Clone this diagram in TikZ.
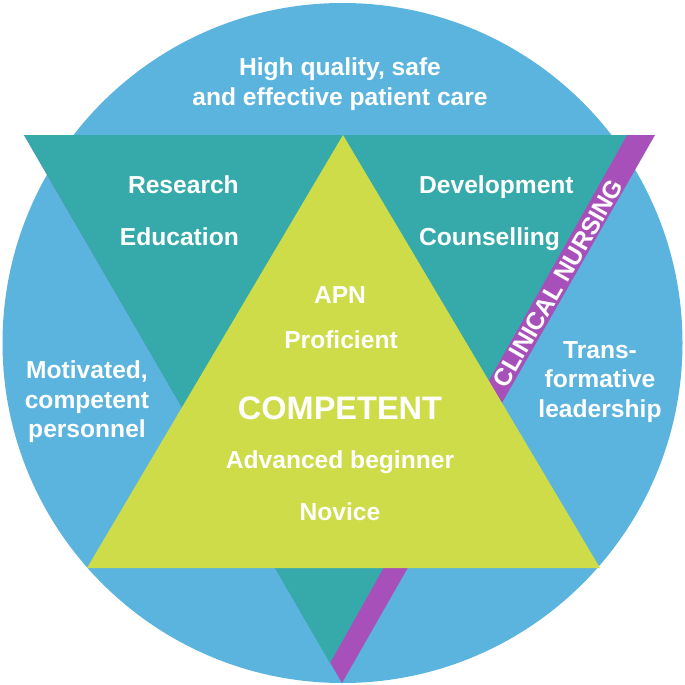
\documentclass[tikz,border=0pt]{standalone}
\usepackage{fontspec}
\setmainfont{Liberation Sans}
\definecolor{circblue}{HTML}{5BB4DE}
\definecolor{tealtri}{HTML}{36AAAA}
\definecolor{limetri}{HTML}{CDDC48}
\definecolor{purpband}{HTML}{A850BA}
\begin{document}
\begin{tikzpicture}[x=1pt,y=-1pt,
  lbl/.style={text=white,font=\bfseries\fontsize{24.6}{29.5}\selectfont,inner sep=0pt},
  biglbl/.style={text=white,font=\bfseries\fontsize{32.5}{36}\selectfont,inner sep=0pt}]
\fill[white] (0,0) rectangle (685,685);
\useasboundingbox (0,0) rectangle (685,685);
% circle
\fill[circblue] (342.5,343) circle[radius=340pt];
% purple band (larger inverted triangle)
\fill[purpband] (24,135) -- (655,135) -- (342,683) -- cycle;
% teal inverted triangle
\fill[tealtri] (24,135) -- (627,135) -- (330,663) -- cycle;
% yellow triangle
\fill[limetri] (343,135) -- (600,568) -- (87,568) -- cycle;
% texts
\node[lbl,anchor=north,align=center] (care) at (340,57.5) {High quality, safe\\and effective patient care};
\node[lbl,anchor=base east] (research) at (239,193) {Research};
\node[lbl,anchor=base east] (education) at (239,245) {Education};
\node[lbl,anchor=base west] (development) at (419,193) {Development};
\node[lbl,anchor=base west] (counselling) at (419,245) {Counselling};
\node[lbl,anchor=base] (apn) at (340,303) {APN};
\node[lbl,anchor=base] (proficient) at (341,348) {Proficient};
\node[biglbl,anchor=base] (competent) at (340,419) {COMPETENT};
\node[lbl,anchor=base] (advanced) at (340,468) {Advanced beginner};
\node[lbl,anchor=base] (novice) at (340,520) {Novice};
\node[lbl,anchor=north,align=center] (motivated) at (87,360.5) {Motivated,\\competent\\personnel};
\node[lbl,anchor=north,align=center] (trans) at (600,341) {Trans-\\formative\\leadership};
\node[lbl,rotate=60] (clinical) at (558,283) {CLINICAL NURSING};
\end{tikzpicture}
\end{document}
